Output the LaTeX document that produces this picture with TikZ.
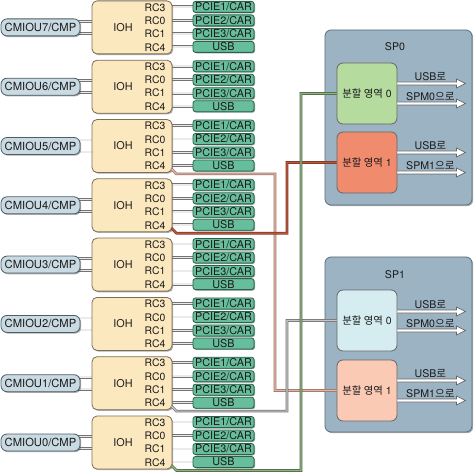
\documentclass[tikz,border=0pt]{standalone}
\usepackage{fontspec}
\setmainfont{TeX Gyre Heros}
\newfontfamily\kr{Noto Sans CJK KR}
\usetikzlibrary{calc,shadows,backgrounds}
\definecolor{iohfill}{HTML}{FCE8BE}
\definecolor{iohdraw}{HTML}{7A6E5A}
\definecolor{cmfill}{HTML}{C9DAE2}
\definecolor{cmdraw}{HTML}{4E5E66}
\definecolor{cardfill}{HTML}{66BE9C}
\definecolor{carddraw}{HTML}{2E5E4C}
\definecolor{spfill}{HTML}{9CB3C3}
\definecolor{spdraw}{HTML}{5A6E7C}
\definecolor{pgreen}{HTML}{B5DB9F}
\definecolor{pred}{HTML}{F18B6E}
\definecolor{pcyan}{HTML}{D5EDF1}
\definecolor{ppeach}{HTML}{FACAB4}
\definecolor{txt}{HTML}{1A1A1A}
\definecolor{lgreenD}{HTML}{4E6B45}
\definecolor{lgreenL}{HTML}{93B283}
\definecolor{lredD}{HTML}{843626}
\definecolor{lredL}{HTML}{B8573F}
\definecolor{lpinkD}{HTML}{9C7468}
\definecolor{lpinkL}{HTML}{E2B7A8}
\tikzset{
  shad/.style={drop shadow={shadow xshift=1.2pt, shadow yshift=-1.2pt, opacity=0.45, fill=black!70}},
  iohbox/.style={draw=iohdraw, fill=iohfill, rounded corners=5pt, minimum width=80pt, minimum height=53pt, inner sep=0pt, line width=0.8pt, shad},
  cmbox/.style={draw=cmdraw, fill=cmfill, rounded corners=6pt, minimum width=79pt, minimum height=17pt, inner sep=0pt, line width=0.8pt, text=txt, font=\fontsize{11.2}{12}\selectfont, shad},
  card/.style={draw=carddraw, fill=cardfill, rounded corners=2.5pt, minimum width=61pt, minimum height=11pt, inner sep=0pt, line width=0.8pt, text=txt, font=\fontsize{10.8}{11}\selectfont, drop shadow={shadow xshift=1pt, shadow yshift=-1pt, opacity=0.6, fill=carddraw}},
  rclbl/.style={inner sep=0pt, text=txt, font=\fontsize{10.4}{11}\selectfont},
  iohlbl/.style={inner sep=0pt, text=txt, font=\fontsize{10.8}{12}\selectfont},
  spbox/.style={draw=spdraw, fill=spfill, rounded corners=6pt, minimum width=147pt, minimum height=175pt, inner sep=0pt, line width=0.8pt, shad},
  splbl/.style={inner sep=0pt, text=txt, font=\fontsize{10.6}{12}\selectfont},
  part/.style={draw=black!60, rounded corners=6pt, minimum width=60pt, minimum height=61pt, inner sep=0pt, line width=0.8pt, text=txt, font=\fontsize{10.4}{11}\selectfont},
  arlbl/.style={inner sep=0pt, text=txt, font=\fontsize{10.6}{11}\selectfont},
  harrow/.style={draw=black!60, fill=white, line width=0.7pt, line join=miter},
  dbl/.style={draw=black!55, double=black!8, line width=0.65pt, double distance=1.5pt},
  cgreen/.style={draw=lgreenD, double=lgreenL, line width=0.75pt, double distance=1.2pt},
  cred/.style={draw=lredD, double=lredL, line width=0.75pt, double distance=1.2pt},
  cpink/.style={draw=lpinkD, double=lpinkL, line width=0.75pt, double distance=1.2pt},
  cgray/.style={draw=black!55, double=black!22, line width=0.75pt, double distance=1.2pt},
}
\newcommand\spoutarrow[4]{%
  \coordinate (#3s) at ($(#1.east)+(0,#2)$);
  \coordinate (#3e) at ($(#1.east)+(68,#2)$);
  \filldraw[harrow] ($(#3s)+(0,-1.5)$) -- ($(#3e)+(-9,-1.5)$) -- ($(#3e)+(-9,-4.5)$) -- (#3e) -- ($(#3e)+(-9,4.5)$) -- ($(#3e)+(-9,1.5)$) -- ($(#3s)+(0,1.5)$);
  \node[arlbl] (#3t) at ($(#3s)+(33,-7.2)$) {#4};
}
\begin{document}
\begin{tikzpicture}[x=1pt,y=-1pt]
\useasboundingbox (0,0) rectangle (474,473);
\begin{pgfonlayer}{background}
\fill[white] (0,0) rectangle (474,473);
\end{pgfonlayer}

\foreach \i in {0,...,7}{
  \pgfmathsetmacro\T{416-59.3*\i}
  \node[cmbox] (cm\i) at (40.5,{\T+26.5}) {CMIOU\i/CMP};
  \node[iohbox] (ioh\i) at (132,{\T+26.5}) {};
  \node[iohlbl] (iohl\i) at (123,{\T+26.5}) {IOH};
  \node[rclbl] (rca\i) at (155,{\T+6.5}) {RC3};
  \node[rclbl] (rcb\i) at (155,{\T+20}) {RC0};
  \node[rclbl] (rcc\i) at (155,{\T+33}) {RC1};
  \node[rclbl] (rcd\i) at (155,{\T+46.5}) {RC4};
  \node[card] (ca\i) at (223.5,{\T+6}) {PCIE1/CAR};
  \node[card] (cb\i) at (223.5,{\T+19.5}) {PCIE2/CAR};
  \node[card] (cc\i) at (223.5,{\T+33}) {PCIE3/CAR};
  \node[card] (cd\i) at (223.5,{\T+46}) {USB};
  \begin{pgfonlayer}{background}
    \draw[dbl] ([xshift=-3pt,yshift=6pt]cm\i.east) -- ([xshift=3pt,yshift=6pt]cm\i.east -| ioh\i.west);
    \draw[dbl] ([xshift=-3pt,yshift=-6pt]cm\i.east) -- ([xshift=3pt,yshift=-6pt]cm\i.east -| ioh\i.west);
    \draw[dbl] ([xshift=-2pt]ca\i.west -| ioh\i.east) -- ([xshift=2pt]ca\i.west);
    \draw[dbl] ([xshift=-2pt]cb\i.west -| ioh\i.east) -- ([xshift=2pt]cb\i.west);
    \draw[dbl] ([xshift=-2pt]cc\i.west -| ioh\i.east) -- ([xshift=2pt]cc\i.west);
    \draw[dbl] ([xshift=-2pt]cd\i.west -| ioh\i.east) -- ([xshift=2pt]cd\i.west);
  \end{pgfonlayer}
}

% SP boxes
\node[spbox] (sp0) at (398.5,117.5) {};
\node[splbl] (sp0l) at (395,47) {SP0};
\node[part, fill=pgreen] (p00) at (367,93.5) {{\kr 분할 영역} 0};
\node[part, fill=pred] (p01) at (367,162.5) {{\kr 분할 영역} 1};

\node[spbox] (sp1) at (398.5,344.5) {};
\node[splbl] (sp1l) at (395,275) {SP1};
\node[part, fill=pcyan] (p10) at (367,320.5) {{\kr 분할 영역} 0};
\node[part, fill=ppeach] (p11) at (367,390.5) {{\kr 분할 영역} 1};

\spoutarrow{p00}{-10}{a1}{USB{\kr 로}}
\spoutarrow{p00}{10}{a2}{SPM0{\kr 으로}}
\spoutarrow{p01}{-10}{a3}{USB{\kr 로}}
\spoutarrow{p01}{10}{a4}{SPM1{\kr 으로}}
\spoutarrow{p10}{-9}{a5}{USB{\kr 로}}
\spoutarrow{p10}{10}{a6}{SPM0{\kr 으로}}
\spoutarrow{p11}{-10}{a7}{USB{\kr 로}}
\spoutarrow{p11}{10}{a8}{SPM1{\kr 으로}}

% connectors
\coordinate (xg) at (301,0);
\coordinate (xr) at (287,0);
\coordinate (xp) at (275,0);
\coordinate (xy) at (287,0);
\draw[cpink] ($(ioh5.south east)+(-1,-4)$) -- ++(5,5) -| (xp |- p11.west) -- (p11.west);
\draw[cred] ($(ioh4.south east)+(-1,-4)$) -- ++(5,5) -| (xr |- p01.west) -- (p01.west);
\draw[cgray] ($(ioh1.south east)+(-1,-4)$) -- ++(5,5) -| (xy |- p10.west) -- (p10.west);
\draw[cgreen] ($(ioh0.south east)+(-1,-4)$) -- ++(5,5) -| (xg |- p00.west) -- (p00.west);
\end{tikzpicture}
\end{document}
